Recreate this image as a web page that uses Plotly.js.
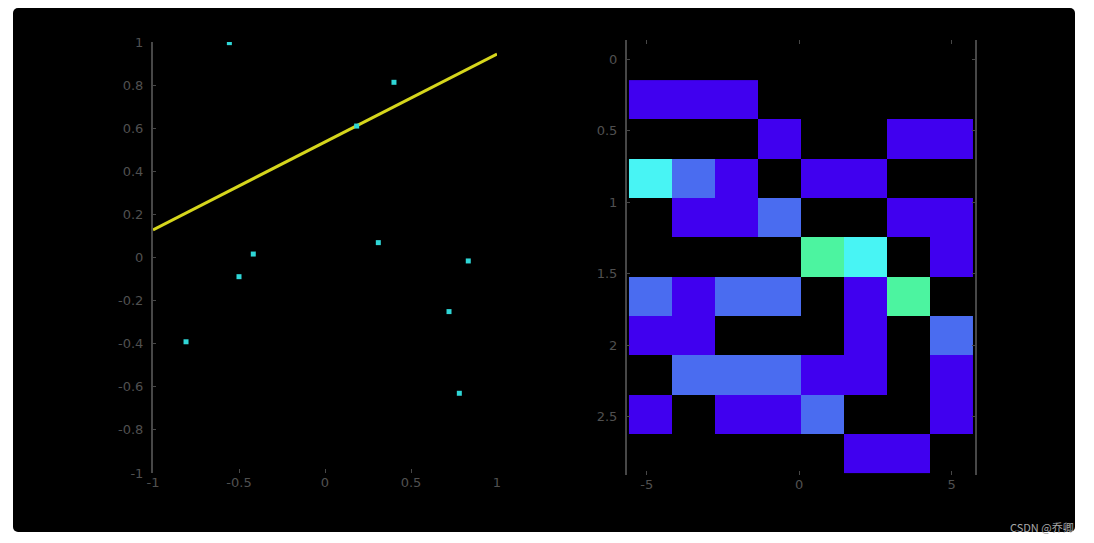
<!DOCTYPE html>
<html>
<head>
<meta charset="utf-8">
<script src="https://cdn.plot.ly/plotly-3.0.1.min.js"></script>
<style>
  html, body { margin: 0; padding: 0; background: #ffffff; width: 1094px; height: 543px; overflow: hidden; }
  #bg { position: absolute; left: 13px; top: 8px; width: 1062px; height: 524px; background: #000000; border-radius: 5px; }
  #chart { position: absolute; left: 0; top: 0; width: 1094px; height: 543px; }
  #wm { position: absolute; left: 1010px; top: 519px; font-family: "Noto Sans CJK SC", "Noto Sans", sans-serif; font-size: 11px; color: #a8a8a8; white-space: nowrap; }
</style>
</head>
<body>
<div id="bg"></div>
<div id="chart"></div>
<div id="wm">CSDN @乔卿</div>
<script>
// Left panel: scatter points
const scatterX = [-0.556, 0.401, 0.184, 0.310, -0.417, -0.500, 0.833, 0.721, -0.808, 0.781];
const scatterY = [0.997, 0.813, 0.610, 0.069, 0.016, -0.089, -0.016, -0.251, -0.391, -0.630];
// Left panel: fitted line end points
const lineX = [-1, 1];
const lineY = [0.128, 0.944];

// Right panel: grid (bin centres) and counts (0 = empty)
const gridX = [-4.879, -3.466, -2.053, -0.640, 0.773, 2.186, 3.599, 5.012];
const gridY = [0.283, 0.558, 0.833, 1.108, 1.383, 1.658, 1.933, 2.208, 2.483, 2.758];
const gridZ = [
  [1, 1, 1, 0, 0, 0, 0, 0],
  [0, 0, 0, 1, 0, 0, 1, 1],
  [4, 2, 1, 0, 1, 1, 0, 0],
  [0, 1, 1, 2, 0, 0, 1, 1],
  [0, 0, 0, 0, 3, 4, 0, 1],
  [2, 1, 2, 2, 0, 1, 3, 0],
  [1, 1, 0, 0, 0, 1, 0, 2],
  [0, 2, 2, 2, 1, 1, 0, 1],
  [1, 0, 1, 1, 2, 0, 0, 1],
  [0, 0, 0, 0, 0, 1, 1, 0]
];

const leftXTicks = [-1, -0.5, 0, 0.5, 1];
const leftYTicks = [-1, -0.8, -0.6, -0.4, -0.2, 0, 0.2, 0.4, 0.6, 0.8, 1];
const rightXTicks = [-5, 0, 5];
const rightYTicks = [0, 0.5, 1, 1.5, 2, 2.5];

const W = 1094, H = 543;
const tickFont = { family: "DejaVu Sans, sans-serif", size: 13, color: "#505050" };
const axColor = "#474747";

const traces = [
  {
    type: "scatter", mode: "lines", x: lineX, y: lineY,
    line: { color: "#d6d61c", width: 3 },
    xaxis: "x", yaxis: "y", hoverinfo: "skip"
  },
  {
    type: "scatter", mode: "markers", x: scatterX, y: scatterY,
    marker: { color: "#2fd6d6", size: 5, symbol: "square" },
    xaxis: "x", yaxis: "y", hoverinfo: "skip"
  },
  {
    type: "heatmap", x: gridX, y: gridY, z: gridZ,
    zmin: 0, zmax: 4, showscale: false,
    colorscale: [
      [0, "#000000"], [0.125, "#000000"],
      [0.125, "#4000ef"], [0.375, "#4000ef"],
      [0.375, "#4a6cf0"], [0.625, "#4a6cf0"],
      [0.625, "#4cf4a0"], [0.875, "#4cf4a0"],
      [0.875, "#48f4f4"], [1, "#48f4f4"]
    ],
    xaxis: "x2", yaxis: "y2", hoverinfo: "skip"
  }
];

const layout = {
  width: W, height: H,
  margin: { l: 0, r: 0, t: 0, b: 0 },
  paper_bgcolor: "rgba(0,0,0,0)",
  plot_bgcolor: "#000000",
  showlegend: false,
  xaxis: {
    domain: [153 / W, 497 / W], range: [-1, 1],
    tickvals: leftXTicks, ticktext: leftXTicks.map(String),
    showgrid: false, zeroline: false, showline: false,
    ticks: "inside", ticklen: 4, tickcolor: axColor, tickfont: tickFont,
    anchor: "y"
  },
  yaxis: {
    domain: [(H - 473) / H, (H - 42) / H], range: [-1, 1],
    tickvals: leftYTicks, ticktext: leftYTicks.map(String),
    showgrid: false, zeroline: false, showline: true, linecolor: axColor, linewidth: 2,
    ticks: "inside", ticklen: 3, tickcolor: axColor, tickfont: tickFont,
    ticklabelstandoff: 5,
    anchor: "x"
  },
  xaxis2: {
    domain: [627 / W, 975 / W], range: [-5.65, 5.77],
    tickvals: rightXTicks, ticktext: rightXTicks.map(String),
    showgrid: false, zeroline: false, showline: false,
    ticks: "inside", ticklen: 4, tickcolor: axColor, tickfont: tickFont,
    mirror: "ticks",
    anchor: "y2"
  },
  yaxis2: {
    domain: [(H - 475) / H, (H - 40) / H], range: [2.908, -0.135],
    tickvals: rightYTicks, ticktext: rightYTicks.map(String),
    showgrid: false, zeroline: false, showline: true, linecolor: axColor, linewidth: 2,
    mirror: "ticks",
    ticks: "inside", ticklen: 3, tickcolor: axColor, tickfont: tickFont,
    ticklabelstandoff: 5,
    anchor: "x2"
  }
};

Plotly.newPlot("chart", traces, layout, { displayModeBar: false, staticPlot: true });
</script>
</body>
</html>
